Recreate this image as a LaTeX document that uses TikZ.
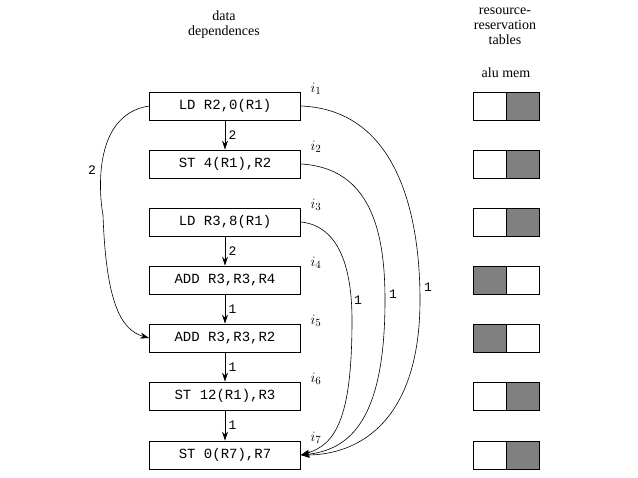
\documentclass[tikz,border=0pt]{standalone}
\usepackage{fontspec}
\setmainfont{Liberation Serif}
\newfontfamily\cour{Liberation Mono}
\usetikzlibrary{arrows.meta}
\begin{document}
\begin{tikzpicture}[x=1pt,y=-1pt,
  instr/.style={draw,thick,minimum width=151pt,minimum height=28pt,inner sep=0pt,font=\cour\fontsize{14}{16}\selectfont},
  cell/.style={draw,thick,minimum width=33pt,minimum height=28pt,inner sep=0pt},
  dep/.style={-{Stealth[length=9pt,width=6pt]},thick},
  arc/.style={-{Stealth[length=9pt,width=6pt]},semithick},
  lbl/.style={font=\cour\fontsize{13}{15}\selectfont},
  il/.style={font=\fontsize{15}{17}\selectfont}]
\useasboundingbox (0,0) rectangle (638,478);
\node[align=center,font=\fontsize{14}{15}\selectfont] (h1) at (224,25) {data\\dependences};
\node[align=center,font=\fontsize{14}{15}\selectfont] (h2) at (505,26) {resource-\\reservation\\tables};
\node[font=\fontsize{14}{15}\selectfont] (h3) at (506,73) {alu mem};
\foreach \n/\y/\t in {1/106/{LD R2,0(R1)},2/164/{ST 4(R1),R2},3/222/{LD R3,8(R1)},4/280/{ADD R3,R3,R4},5/338/{ADD R3,R3,R2},6/396/{ST 12(R1),R3},7/455/{ST 0(R7),R7}}{
  \node[instr] (i\n) at (225,\y) {\t};
  \node[il] (l\n) at (316,\y-17) {$i_{\n}$};
}
\foreach \n/\y/\a/\b in {1/106/white/gray,2/164/white/gray,3/222/white/gray,4/280/gray/white,5/338/gray/white,6/396/white/gray,7/455/white/gray}{
  \node[cell,fill=\a] (a\n) at (489.5,\y) {};
  \node[cell,fill=\b] (m\n) at (522.5,\y) {};
}
\draw[dep] (i1) -- node[lbl,right]{2} (i2);
\draw[dep] (i3) -- node[lbl,right]{2} (i4);
\draw[dep] (i4) -- node[lbl,right]{1} (i5);
\draw[dep] (i5) -- node[lbl,right]{1} (i6);
\draw[dep] (i6) -- node[lbl,right]{1} (i7);
\draw[arc] (i1.west) .. controls (90,115) and (100,200) .. (103,215) .. controls (106,300) and (120,330) .. (i5.west);
\node[lbl] (n2) at (92,170) {2};
\draw[arc] (i1.east) .. controls (400,110) and (420,220) .. (420,300) .. controls (420,420) and (360,455) .. (i7.east);
\node[lbl] (n1a) at (428,287) {1};
\draw[arc] (i2.east) .. controls (370,168) and (385,230) .. (385,300) .. controls (385,420) and (350,450) .. (i7.east);
\node[lbl] (n1b) at (393,294) {1};
\draw[arc] (i3.east) .. controls (340,226) and (352,270) .. (352,320) .. controls (352,420) and (335,445) .. (i7.east);
\node[lbl] (n1c) at (358,300) {1};
\end{tikzpicture}
\end{document}
